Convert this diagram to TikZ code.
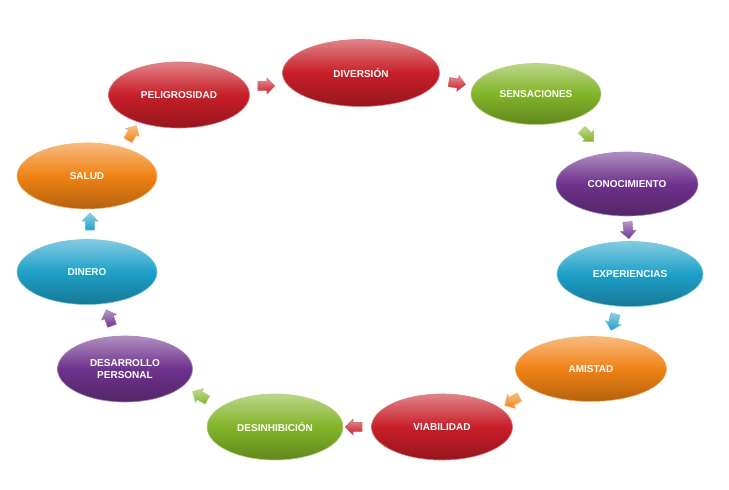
\documentclass[tikz,border=0pt]{standalone}
\usepackage{fontspec}
\setmainfont{Liberation Sans}
\usetikzlibrary{shapes.geometric,shapes.arrows}
\definecolor{cred}{RGB}{200,30,40}
\definecolor{cgreen}{RGB}{130,180,40}
\definecolor{cpurple}{RGB}{110,50,140}
\definecolor{ccyan}{RGB}{30,160,200}
\definecolor{corange}{RGB}{240,130,20}
\tikzset{
 el/.style={ellipse,draw=#1!60!white,line width=0.6pt,top color=#1!55!white,bottom color=#1!75!black,middle color=#1,
   text=white,font=\fontsize{10}{11.5}\selectfont\bfseries,align=center,inner sep=0pt},
 ar/.style={single arrow,draw=#1!70!white,top color=#1!50!white,bottom color=#1,minimum height=17pt,minimum width=16pt,
   single arrow head extend=3pt,inner sep=0pt,text width=6pt,text height=8pt,text depth=0pt}
}
\begin{document}
\begin{tikzpicture}[x=1pt,y=-1pt]
\useasboundingbox (0,0) rectangle (729,490);
\node[el=cred,minimum width=157,minimum height=67] (div) at (361,73) {DIVERSIÓN};
\node[el=cgreen,minimum width=130,minimum height=61] (sen) at (536,94) {SENSACIONES};
\node[el=cpurple,minimum width=142,minimum height=64] (con) at (627,184) {CONOCIMIENTO};
\node[el=ccyan,minimum width=146,minimum height=65] (exp) at (630,274) {EXPERIENCIAS};
\node[el=corange,minimum width=151,minimum height=65] (ami) at (591,369) {AMISTAD};
\node[el=cred,minimum width=141,minimum height=66] (via) at (442,427) {VIABILIDAD};
\node[el=cgreen,minimum width=136,minimum height=66] (des) at (275,427) {DESINHIBICIÓN};
\node[el=cpurple,minimum width=135,minimum height=66] (dp) at (125,369) {DESARROLLO\\PERSONAL};
\node[el=ccyan,minimum width=140,minimum height=65] (din) at (87,272) {DINERO};
\node[el=corange,minimum width=140,minimum height=66] (sal) at (87,176) {SALUD};
\node[el=cred,minimum width=141,minimum height=66] (pel) at (179,95) {PELIGROSIDAD};
\node[ar=cred] (a1) at (264,86) {};
\node[ar=cred,rotate=-8] (a2) at (455,83) {};
\node[ar=cgreen,rotate=-45] (a3) at (586,134) {};
\node[ar=cpurple,rotate=-85] (a4) at (628,228) {};
\node[ar=ccyan,rotate=-105] (a5) at (614,320) {};
\node[ar=corange,rotate=-150] (a6) at (514,400) {};
\node[ar=cred,rotate=180] (a7) at (356,427) {};
\node[ar=cgreen,rotate=150] (a8) at (202,397) {};
\node[ar=cpurple,rotate=110] (a9) at (110,320) {};
\node[ar=ccyan,rotate=90] (a10) at (90,224) {};
\node[ar=corange,rotate=60] (a11) at (131,135) {};
\end{tikzpicture}
\end{document}
